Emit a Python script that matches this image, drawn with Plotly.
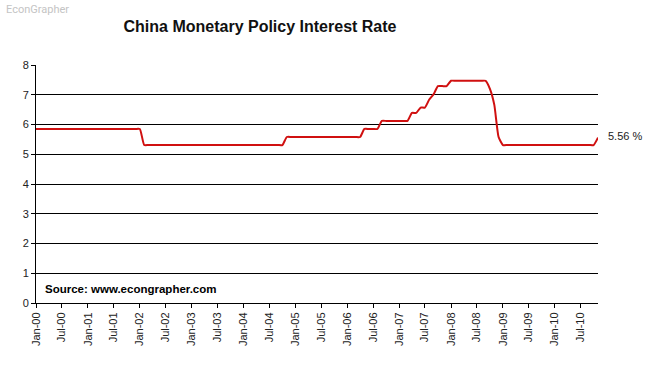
import plotly.graph_objects as go
import pandas as pd

# Monthly observations, Jan-2000 .. Nov-2010
start_month = "2000-01-01"
end_month = "2010-11-01"
rate = (
    # 2000
    [5.85, 5.85, 5.85, 5.85, 5.85, 5.85, 5.85, 5.85, 5.85, 5.85, 5.85, 5.85] +
    # 2001
    [5.85, 5.85, 5.85, 5.85, 5.85, 5.85, 5.85, 5.85, 5.85, 5.85, 5.85, 5.85] +
    # 2002
    [5.85, 5.31, 5.31, 5.31, 5.31, 5.31, 5.31, 5.31, 5.31, 5.31, 5.31, 5.31] +
    # 2003
    [5.31, 5.31, 5.31, 5.31, 5.31, 5.31, 5.31, 5.31, 5.31, 5.31, 5.31, 5.31] +
    # 2004
    [5.31, 5.31, 5.31, 5.31, 5.31, 5.31, 5.31, 5.31, 5.31, 5.31, 5.58, 5.58] +
    # 2005
    [5.58, 5.58, 5.58, 5.58, 5.58, 5.58, 5.58, 5.58, 5.58, 5.58, 5.58, 5.58] +
    # 2006
    [5.58, 5.58, 5.58, 5.58, 5.85, 5.85, 5.85, 5.85, 6.12, 6.12, 6.12, 6.12] +
    # 2007
    [6.12, 6.12, 6.12, 6.39, 6.39, 6.57, 6.57, 6.84, 7.02, 7.29, 7.29, 7.29] +
    # 2008
    [7.47, 7.47, 7.47, 7.47, 7.47, 7.47, 7.47, 7.47, 7.47, 7.20, 6.66, 5.58] +
    # 2009
    [5.31, 5.31, 5.31, 5.31, 5.31, 5.31, 5.31, 5.31, 5.31, 5.31, 5.31, 5.31] +
    # 2010
    [5.31, 5.31, 5.31, 5.31, 5.31, 5.31, 5.31, 5.31, 5.31, 5.31, 5.56]
)
months = pd.date_range(start_month, end_month, freq="MS")

title_text = "China Monetary Policy Interest Rate"
source_text = "Source: www.econgrapher.com"
brand_text = "EconGrapher"
y_ticks = [0, 1, 2, 3, 4, 5, 6, 7, 8]

FONT = "Liberation Sans, Arial, sans-serif"
W, H = 655, 365
ML, MR, MT, MB = 36, 57, 65, 62
PW, PH = W - ML - MR, H - MT - MB

fig = go.Figure()
fig.add_trace(go.Scatter(
    x=months, y=rate, mode="lines",
    line=dict(color="#d01010", width=2, shape="spline", smoothing=0.5),
    hoverinfo="x+y", showlegend=False,
))

fig.update_layout(
    width=W, height=H,
    margin=dict(l=ML, r=MR, t=MT, b=MB, autoexpand=False),
    paper_bgcolor="white", plot_bgcolor="white",
    font=dict(family=FONT, size=11, color="#222"),
    title=dict(
        text="<b>" + title_text + "</b>",
        x=260 / W, xanchor="center", y=1 - 26 / H, yanchor="middle",
        font=dict(family=FONT, size=16, color="#111"),
    ),
    xaxis=dict(
        type="date", automargin=False,
        range=[start_month, end_month],
        tick0=start_month, dtick="M6", tickformat="%b-%y",
        tickangle=-90,
        showgrid=False, zeroline=False,
        showline=True, linecolor="black", linewidth=1,
        ticks="outside", ticklen=4, tickcolor="black",
        tickfont=dict(size=11, color="#222"),
    ),
    yaxis=dict(
        automargin=False,
        range=[0, 8], tickvals=y_ticks,
        showgrid=True, gridcolor="black", gridwidth=1,
        zeroline=False,
        showline=True, linecolor="black", linewidth=1,
        ticks="outside", ticklen=4, tickcolor="black",
        tickfont=dict(size=11, color="#222"),
    ),
)

fig.add_annotation(
    x=months[-1], y=rate[-1], xref="x", yref="y",
    text=f"{rate[-1]:.2f} %", showarrow=False,
    xanchor="left", yanchor="middle", xshift=8, yshift=2,
    font=dict(family=FONT, size=11, color="#222"),
)
fig.add_annotation(
    x=(43 - ML) / PW, y=(H - MB - 289) / PH, xref="paper", yref="paper",
    text="<b>" + source_text + "</b>", showarrow=False,
    xanchor="left", yanchor="middle",
    font=dict(family=FONT, size=11.5, color="black"),
)
fig.add_annotation(
    x=(4 - ML) / PW, y=(H - MB - 10) / PH, xref="paper", yref="paper",
    xanchor="left", yanchor="middle",
    text=brand_text, showarrow=False,
    font=dict(family="Liberation Sans Narrow, Roboto, sans-serif", size=11, color="#c4c4c4"),
)

fig.write_html("out.html", config={"displayModeBar": False},
               post_script="document.body.style.margin='0';")
